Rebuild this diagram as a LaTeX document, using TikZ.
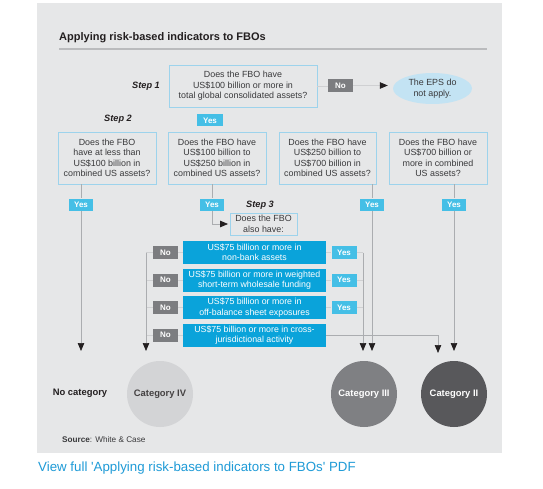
\documentclass[tikz,border=0pt]{standalone}
\usepackage{fontspec}
\setmainfont{Liberation Sans}
\newfontfamily\linkfont{Liberation Sans}[Ligatures=TeXOff]
\usetikzlibrary{arrows.meta,shapes.geometric}
\definecolor{panel}{HTML}{E6E7E8}
\definecolor{qborder}{HTML}{9DD3EC}
\definecolor{txt}{HTML}{3A3A3C}
\definecolor{bluefill}{HTML}{0AA3DA}
\definecolor{yesc}{HTML}{45BFE6}
\definecolor{noc}{HTML}{7C7D80}
\definecolor{epsc}{HTML}{C3E3F3}
\definecolor{cat4}{HTML}{D3D4D6}
\definecolor{cat3}{HTML}{7F8083}
\definecolor{cat2}{HTML}{58585B}
\definecolor{linec}{HTML}{ABADB0}
\definecolor{stubc}{HTML}{CFD0D2}
\definecolor{rulec}{HTML}{BABBBD}
\definecolor{linkc}{HTML}{1F9BD7}
\definecolor{ink}{HTML}{231F20}
\tikzset{
  qbox/.style={draw=qborder, line width=0.9pt, fill=panel, text=txt, align=center,
    font=\fontsize{8.9}{10.5}\selectfont, inner sep=0pt},
  yesbox/.style={fill=yesc, text=white, font=\bfseries\fontsize{8}{9}\selectfont,
    minimum width=24, minimum height=12, inner sep=0pt},
  nobox/.style={fill=noc, text=white, font=\bfseries\fontsize{8}{9}\selectfont,
    minimum width=25, minimum height=13, inner sep=0pt},
  bluebox/.style={fill=bluefill, text=white, align=center, font=\fontsize{8.8}{10.5}\selectfont,
    minimum width=143, minimum height=23, inner sep=0pt},
  steplbl/.style={font=\bfseries\itshape\fontsize{9.2}{10}\selectfont, text=ink},
  catnode/.style={circle, minimum size=66, inner sep=0pt, font=\bfseries\fontsize{9.4}{10}\selectfont},
  conn/.style={draw=linec, line width=0.7pt},
  stub/.style={draw=stubc, line width=0.7pt},
  arr/.style={-{Triangle[length=8pt,width=6.5pt,color=ink]}},
}
\begin{document}
\begin{tikzpicture}[x=1pt,y=-1pt]
\useasboundingbox (0,0) rectangle (543,489);
\fill[white] (0,0) rectangle (543,489);
\fill[panel] (37,3) rectangle (502,453);

% title
\node[anchor=west, inner sep=0pt, font=\bfseries\fontsize{11}{13}\selectfont, text=ink] (title) at (59,38) {Applying risk-based indicators to FBOs};
\coordinate (ruleL) at (59,49);
\coordinate (ruleR) at (487,49);
\draw[rulec, line width=1.4pt] (ruleL) -- (ruleR);

% step 1
\node[steplbl] (s1) at (146,86) {Step 1};
\node[qbox, minimum width=148, minimum height=42] (q1) at (243,86) {Does the FBO have\\US\$100 billion or more in\\total global consolidated assets?};
\node[nobox] (no1) at (340.5,85.5) {No};
\node[ellipse, fill=epsc, minimum width=79, minimum height=31, inner sep=0pt, align=center,
  text=txt, font=\fontsize{8.9}{10.5}\selectfont] (eps) at (432.5,88.5) {The EPS do\\not apply.};
\node[yesbox, minimum width=26] (yes0) at (210,120.5) {Yes};

% step 2
\node[steplbl] (s2) at (118,119) {Step 2};
\node[qbox, minimum width=98, minimum height=52] (q2a) at (107,158) {Does the FBO\\have at less than\\US\$100 billion in\\combined US assets?};
\node[qbox, minimum width=98, minimum height=52] (q2b) at (217,158) {Does the FBO have\\US\$100 billion to\\US\$250 billion in\\combined US assets?};
\node[qbox, minimum width=97, minimum height=52] (q2c) at (327.5,158) {Does the FBO have\\US\$250 billion to\\US\$700 billion in\\combined US assets?};
\node[qbox, minimum width=98, minimum height=52] (q2d) at (438,158) {Does the FBO have\\US\$700 billion or\\more in combined\\US assets?};

\node[yesbox] (yesA) at (81,204.5) {Yes};
\node[yesbox] (yesB) at (212,204.5) {Yes};
\node[yesbox] (yesC) at (372,204.5) {Yes};
\node[yesbox] (yesD) at (454,204.5) {Yes};

% step 3
\node[steplbl] (s3) at (260,205) {Step 3};
\node[qbox, minimum width=67, minimum height=22] (q3) at (263.5,224) {Does the FBO\\also have:};

\node[bluebox] (b1) at (254.5,252.5) {US\$75 billion or more in\\non-bank assets};
\node[bluebox] (b2) at (254.5,280) {US\$75 billion or more in weighted\\short-term wholesale funding};
\node[bluebox] (b3) at (254.5,307.5) {US\$75 billion or more in\\off-balance sheet exposures};
\node[bluebox] (b4) at (254.5,335) {US\$75 billion or more in cross-\\jurisdictional activity};

\node[nobox] (n1) at (165.5,252.5) {No};
\node[nobox] (n2) at (165.5,280) {No};
\node[nobox] (n3) at (165.5,307.5) {No};
\node[nobox] (n4) at (165.5,335) {No};

\node[nobox, fill=yesc] (y1) at (344,252.5) {Yes};
\node[nobox, fill=yesc] (y2) at (344,280) {Yes};
\node[nobox, fill=yesc] (y3) at (344,307.5) {Yes};

% categories
\node[font=\bfseries\fontsize{9.4}{10}\selectfont, text=ink] (nocat) at (80,393) {No category};
\node[catnode, fill=cat4, text=ink!85] (c4) at (160,394) {Category IV};
\node[catnode, fill=cat3, text=white] (c3) at (364,394) {Category III};
\node[catnode, fill=cat2, text=white] (c2) at (454,394) {Category II};

% source and link
\node[anchor=west, inner sep=0pt, font=\fontsize{8.2}{10}\selectfont, text=txt] (src) at (62,440) {\textbf{Source}: White \& Case};
\node[anchor=west, inner sep=0pt, font=\linkfont\fontsize{13.3}{15}\selectfont, text=linkc] (link) at (38,468) {View full 'Applying risk-based indicators to FBOs' PDF};

% connectors
\coordinate (tips) at (0,351);
\coordinate (vNo) at (146,252.5);
\coordinate (vYes) at (363,252.5);
\coordinate (c2tip) at (438,353);

\draw[stub] (q1.east) -- (q1.east -| no1.west);
\draw[stub, arr, shorten >=5pt] (no1.east) -- (no1.east -| eps.west);

\draw[conn] (q2a.south -| yesA) -- (yesA.north);
\draw[conn, arr] (yesA.south) -- (yesA.south |- tips);
\draw[conn] (q2b.south -| yesB) -- (yesB.north);
\draw[conn, arr, shorten >=1.5pt] (yesB.south) |- (q3.west);
\draw[conn] (q2c.south -| yesC) -- (yesC.north);
\draw[conn, arr] (yesC.south) -- (yesC.south |- tips);
\draw[conn] (q2d.south -| yesD) -- (yesD.north);
\draw[conn, arr] (yesD.south) -- (yesD.south |- tips);

\foreach \i in {1,2,3,4} {
  \draw[stub] (n\i.east) -- (b\i.west);
  \draw[stub] (n\i.west) -- (n\i.west -| vNo);
}
\draw[conn, arr] (vNo) -- (vNo |- tips);

\foreach \i in {1,2,3} {
  \draw[stub] (b\i.east) -- (y\i.west);
  \draw[stub] (y\i.east) -- (y\i.east -| vYes);
}
\draw[conn, arr] (vYes) -- (vYes |- tips);

\draw[conn, arr] (b4.east) -| (c2tip);
\end{tikzpicture}
\end{document}
